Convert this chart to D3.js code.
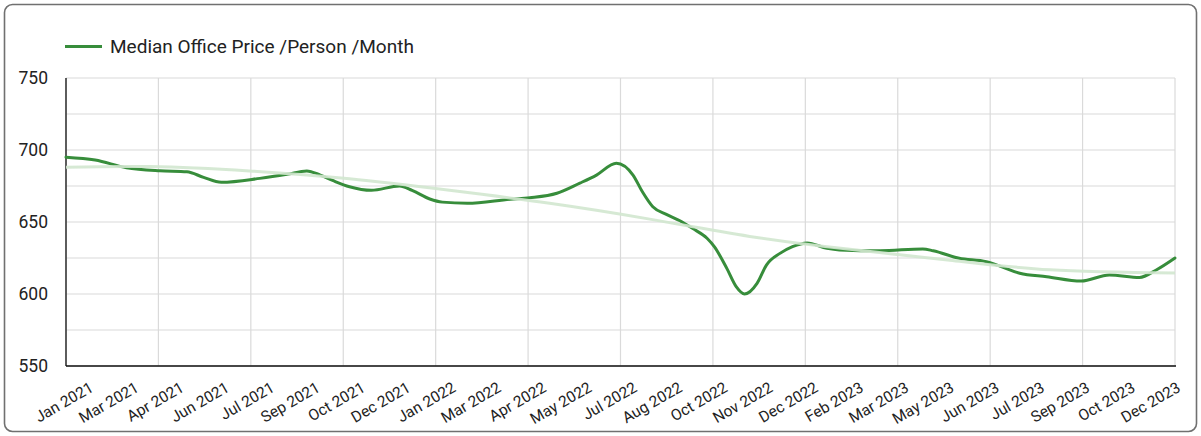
<!DOCTYPE html>
<html>
<head>
<meta charset="utf-8">
<script src="https://cdn.jsdelivr.net/npm/d3@7"></script>
<style>
  html, body { margin: 0; padding: 0; background: #ffffff; }
  svg { display: block; font-family: Roboto, "Noto Sans", Arial, sans-serif; }
</style>
</head>
<body>
<div id="chart"></div>
<script>
// ---- data ----
const seriesName = "Median Office Price /Person /Month";
const dates = ["2021-01-01","2021-01-29","2021-02-28","2021-04-01","2021-04-27","2021-05-13","2021-05-30","2021-07-06","2021-08-01","2021-08-20","2021-09-02","2021-09-15","2021-09-30","2021-10-21","2021-11-17","2021-11-29","2021-12-16","2021-12-28","2022-01-21","2022-03-03","2022-03-22","2022-04-17","2022-05-09","2022-05-25","2022-06-13","2022-06-29","2022-07-08","2022-07-18","2022-07-31","2022-08-13","2022-08-25","2022-09-08","2022-09-15","2022-09-27","2022-10-06","2022-10-14","2022-10-26","2022-11-04","2022-11-17","2022-11-29","2022-12-13","2023-01-01","2023-01-13","2023-02-21","2023-04-03","2023-04-13","2023-05-08","2023-06-03","2023-06-16","2023-07-05","2023-07-31","2023-09-02","2023-09-29","2023-10-28","2023-11-13","2023-12-01"];
const prices = [695,693,687.7,685.6,684.9,681,677.6,680.3,683.1,685.5,682.6,678.5,674.5,672,675,672,666,663.8,663,665.8,666.9,670,677,682.6,690.8,682.6,671,660.6,655.3,650.9,645.6,638.7,632.9,617.8,605.1,600,607.4,620.1,628.2,632.9,635.5,631.7,630.6,630,631.3,630,624.8,622.4,619.4,614.4,612,609,613.2,611.5,616.7,625];
const trendDates = ["2021-01-01","2021-03-22","2021-06-26","2021-09-30","2022-01-04","2022-04-10","2022-07-15","2022-10-19","2023-01-23","2023-04-29","2023-08-03","2023-12-01"];
const trendValues = [688,688.5,685.5,680,672,663,652,640,631,623.5,616.8,614.5];
const tickLabels = ["Jan 2021","Mar 2021","Apr 2021","Jun 2021","Jul 2021","Sep 2021","Oct 2021","Dec 2021","Jan 2022","Mar 2022","Apr 2022","May 2022","Jul 2022","Aug 2022","Oct 2022","Nov 2022","Dec 2022","Feb 2023","Mar 2023","May 2023","Jun 2023","Jul 2023","Sep 2023","Oct 2023","Dec 2023"];
const yTicks = [550,600,650,700,750];
const yGrid = [550,575,600,625,650,675,700,725,750];

// ---- layout ----
const W = 1201, H = 436;
const L = 66, R = 1175, T = 78, B = 366;
const lineColor = "#378d3b";
const trendColor = "#d2e7cf";

const parse = d3.utcParse("%Y-%m-%d");
const data = dates.map((d, i) => ({ date: parse(d), value: prices[i] }));
const trend = trendDates.map((d, i) => ({ date: parse(d), value: trendValues[i] }));

const svg = d3.select("#chart").append("svg").attr("width", W).attr("height", H);

svg.append("rect").attr("x", 0).attr("y", 0).attr("width", W).attr("height", H).attr("fill", "#fff");
svg.append("rect").attr("x", 4.5).attr("y", 4.5).attr("width", 1192).attr("height", 427)
  .attr("rx", 8).attr("fill", "#fff").attr("stroke", "#707070").attr("stroke-width", 1.6);

const x = d3.scaleUtc().domain(d3.extent(data, d => d.date)).range([L, R]);
const y = d3.scaleLinear().domain([550, 750]).range([B, T]);

// vertical gridlines: 13 evenly spaced across the domain
const [d0, d1] = x.domain();
const gridDates = d3.range(13).map(k => new Date(+d0 + k * (d1 - d0) / 12));

const g = svg.append("g");
g.selectAll("line.hg").data(yGrid).join("line")
  .attr("x1", L).attr("x2", R).attr("y1", d => y(d)).attr("y2", d => y(d))
  .attr("stroke", "#dadada").attr("stroke-width", 1.2);
g.selectAll("line.vg").data(gridDates).join("line")
  .attr("x1", d => x(d)).attr("x2", d => x(d)).attr("y1", T).attr("y2", B)
  .attr("stroke", "#dadada").attr("stroke-width", 1.2);

// y axis labels
const yAxis = d3.axisLeft(y).tickValues(yTicks).tickSize(0).tickPadding(18);
const ya = svg.append("g").attr("transform", `translate(${L},0)`).call(yAxis);
ya.select(".domain").remove();
ya.selectAll("text").attr("font-size", 17.5).attr("fill", "#222").attr("font-family", "Roboto");

// axis lines
svg.append("line").attr("x1", L).attr("x2", L).attr("y1", T).attr("y2", B).attr("stroke", "#111").attr("stroke-width", 1.3);
svg.append("line").attr("x1", L).attr("x2", R + 1).attr("y1", B).attr("y2", B).attr("stroke", "#111").attr("stroke-width", 1.3);

// x labels (slanted)
const xl = d3.scalePoint().domain(tickLabels).range([89, R + 1]);
svg.append("g").selectAll("text").data(tickLabels).join("text")
  .attr("transform", d => `translate(${xl(d)},${B + 15}) rotate(-30)`)
  .attr("text-anchor", "end")
  .attr("dy", "0.71em")
  .attr("font-size", 15.5).attr("fill", "#222")
  .text(d => d);

// series line
const line = d3.line().x(d => x(d.date)).y(d => y(d.value)).curve(d3.curveMonotoneX);
svg.append("path").datum(data).attr("d", line)
  .attr("fill", "none").attr("stroke", lineColor).attr("stroke-width", 3)
  .attr("stroke-linejoin", "round").attr("stroke-linecap", "round");

// trendline
const tline = d3.line().x(d => x(d.date)).y(d => y(d.value)).curve(d3.curveNatural);
svg.append("path").datum(trend).attr("d", tline)
  .attr("fill", "none").attr("stroke", trendColor).attr("stroke-width", 3).attr("opacity", 0.9);

// legend
const lg = svg.append("g");
lg.append("line").attr("x1", 65).attr("x2", 102).attr("y1", 46.5).attr("y2", 46.5)
  .attr("stroke", lineColor).attr("stroke-width", 3);
lg.append("text").attr("x", 110).attr("y", 46.5).attr("dy", "0.35em")
  .attr("font-size", 19).attr("fill", "#222").text(seriesName);
</script>
</body>
</html>
